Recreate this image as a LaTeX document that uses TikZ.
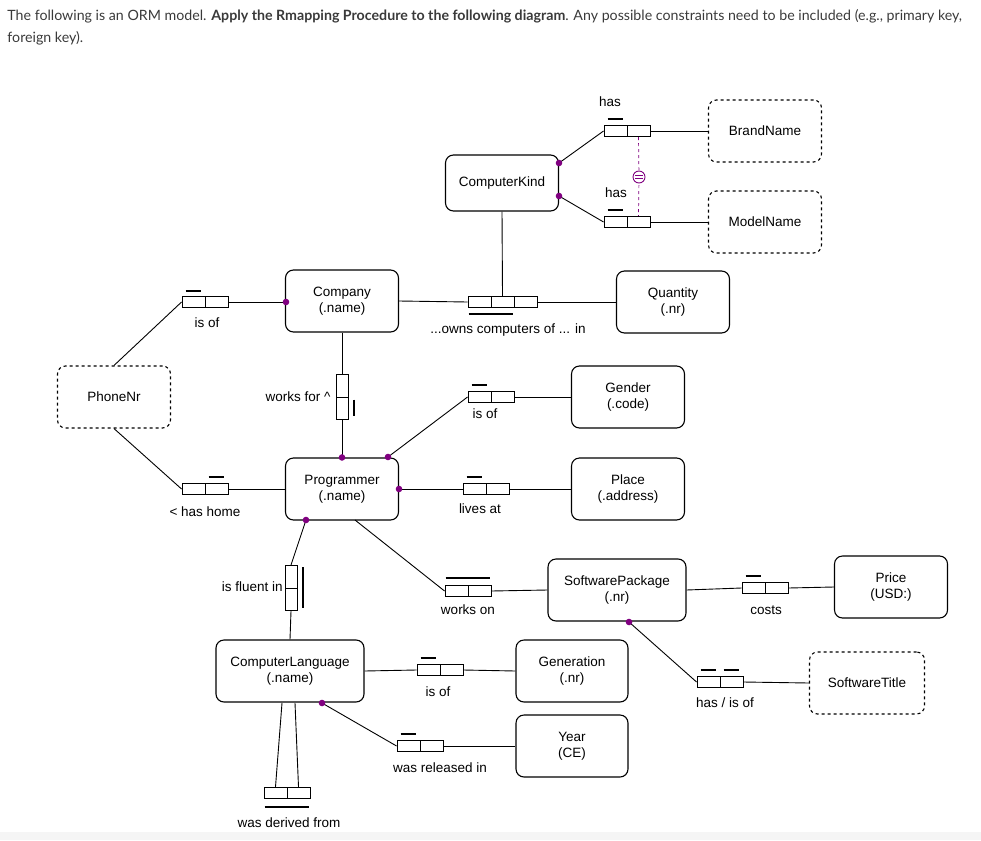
\documentclass[tikz,border=0pt]{standalone}
\usepackage{fontspec}
\setmainfont{Liberation Sans}
\newfontfamily\latofont{Lato}
\definecolor{orm}{HTML}{800080}
\definecolor{hdr}{HTML}{3A3A3A}
\newcommand\hrole[3]{%
  \node[cell] (#1a) at (#2-11.5,#3) {};
  \node[cell] (#1b) at (#2+11.5,#3) {};}
\newcommand\vrole[3]{%
  \node[vcell] (#1a) at (#2,#3-11.25) {};
  \node[vcell] (#1b) at (#2,#3+11.25) {};}
\newcommand\tdot[1]{\fill[orm] (#1) circle (3.3);}
\begin{document}
\begin{tikzpicture}[x=1pt,y=-1pt,line width=0.9pt,
  every node/.style={font=\fontsize{13.5}{15.5}\selectfont},
  ent/.style={draw,line width=1.1pt,rounded corners=8pt,minimum width=113pt,minimum height=62pt,align=center,inner sep=0pt},
  val/.style={ent,dashed},
  cell/.style={draw,line width=0.9pt,minimum width=23pt,minimum height=11.5pt,inner sep=0pt},
  vcell/.style={draw,line width=0.9pt,minimum width=12pt,minimum height=22.5pt,inner sep=0pt},
  lbl/.style={inner sep=0pt},
  bar/.style={line width=2pt}]
\useasboundingbox (0,0) rectangle (981,840);
\fill[gray!8] (0,832) rectangle (981,840);
% header
\node[anchor=west,inner sep=0pt,text=hdr,font=\latofont\fontsize{14.2}{17}\selectfont] (hd1) at (7,16) {The following is an ORM model. \textbf{Apply the Rmapping Procedure to the following diagram}. Any possible constraints need to be included (e.g., primary key,};
\node[anchor=west,inner sep=0pt,text=hdr,font=\latofont\fontsize{14.2}{17}\selectfont] (hd2) at (7,38) {foreign key).};
% entities
\node[ent] (ck) at (502,183) [minimum width=113pt,minimum height=56pt] {ComputerKind};
\node[val] (brand) at (765,131) {BrandName};
\node[val] (model) at (765,222) {ModelName};
\node[ent] (comp) at (342,301) {Company\\(.name)};
\node[ent] (qty) at (673,302) {Quantity\\(.nr)};
\node[val] (phone) at (114,397) {PhoneNr};
\node[ent] (prog) at (342,489) {Programmer\\(.name)};
\node[ent] (gender) at (628,397) {Gender\\(.code)};
\node[ent] (place) at (628,489) {Place\\(.address)};
\node[ent,minimum width=138pt] (sp) at (617,590) {SoftwarePackage\\(.nr)};
\node[ent] (price) at (891,587) {Price\\(USD:)};
\node[val,minimum width=115pt] (stitle) at (867,683) {SoftwareTitle};
\node[ent,minimum width=148pt] (cl) at (290,671) {ComputerLanguage\\(.name)};
\node[ent,minimum width=112pt] (gen) at (572,671) {Generation\\(.nr)};
\node[ent,minimum width=112pt] (year) at (572,746) {Year\\(CE)};
% roles
\hrole{hb}{627}{131}
\hrole{hm}{627}{222}
\node[cell] (ow1) at (479.5,302) {};
\node[cell] (ow2) at (502.5,302) {};
\node[cell] (ow3) at (525.5,302) {};
\hrole{ci}{205}{302}
\hrole{hh}{205}{489}
\vrole{wf}{342}{397}
\hrole{go}{491}{397}
\hrole{la}{486}{489}
\hrole{wo}{468}{591}
\hrole{co}{765}{588}
\hrole{hi}{720}{682}
\vrole{fl}{291}{588}
\hrole{gi}{440}{670}
\hrole{wr}{420}{746}
\hrole{wd}{287}{793}
% uniqueness bars
\draw[bar] (hba.north west)++(4,-6) -- ++(15,0);
\draw[bar] (hma.north west)++(4,-6) -- ++(15,0);
\draw[bar] (ow1.south west)++(1,6) -- ++(44,0);
\draw[bar] (cia.north west)++(4,-5) -- ++(15,0);
\draw[bar] (hhb.north west)++(4,-6) -- ++(15,0);
\draw[bar] (wfb.north east)++(6,3) -- ++(0,16);
\draw[bar] (goa.north west)++(4,-6) -- ++(15,0);
\draw[bar] (laa.north west)++(4,-6) -- ++(15,0);
\draw[bar] (woa.north west)++(1,-7) -- ++(44,0);
\draw[bar] (coa.north west)++(4,-6) -- ++(15,0);
\draw[bar] (hia.north west)++(4,-6) -- ++(15,0);
\draw[bar] (hib.north west)++(4,-6) -- ++(15,0);
\draw[bar] (fla.north east)++(6,2) -- ++(0,41);
\draw[bar] (gia.north west)++(4,-6) -- ++(15,0);
\draw[bar] (wra.north west)++(4,-6) -- ++(15,0);
\draw[bar] (wda.south west)++(1,8) -- ++(44,0);
% equality constraint
\coordinate (eqc) at (639,177);
\draw[orm,dashed,line width=0.7pt] (hbb.south) -- (eqc) -- (hmb.north);
\draw[orm,fill=white] (eqc) circle (6);
\draw[orm] (635,175.5) -- (643,175.5) (635,178.5) -- (643,178.5);
% role labels
\node[lbl] (l1) at (610,102) {has};
\node[lbl] (l2) at (616,193) {has};
\node[lbl] (l3) at (508,330) {...owns computers of ... in};
\node[lbl] (l4) at (207,323) {is of};
\node[lbl] (l5) at (205,512) {< has home};
\node[lbl,anchor=east] (l6) at (331,397) {works for \^{}};
\node[lbl] (l7) at (485,414) {is of};
\node[lbl] (l8) at (480,509) {lives at};
\node[lbl] (l9) at (468,610) {works on};
\node[lbl] (l10) at (766,610) {costs};
\node[lbl] (l11) at (725,703) {has / is of};
\node[lbl,anchor=east] (l12) at (283,587) {is fluent in};
\node[lbl] (l13) at (438,692) {is of};
\node[lbl] (l14) at (440,768) {was released in};
\node[lbl] (l15) at (289,823) {was derived from};
% connectors
\coordinate (ck1) at (559,163); \coordinate (ck2) at (559,196);
\draw (ck1) -- (hba.west); \draw (ck2) -- (hma.west);
\draw (hbb.east) -- (brand.west); \draw (hmb.east) -- (model.west);
\draw (ck.south) -- (ow2.north);
\draw (comp.east) -- (ow1.west);
\draw (ow3.east) -- (qty.west);
\coordinate (cd) at (286,302);
\draw (cib.east) -- (cd);
\draw (cia.west) -- (phone.north);
\draw (phone.south) -- (hha.west);
\draw (hhb.east) -- (prog.west);
\draw (comp.south) -- (wfa.north);
\draw (wfb.south) -- (prog.north);
\coordinate (pd1) at (388,457); \coordinate (pd2) at (399,489); \coordinate (pd3) at (306,520);
\draw (pd1) -- (goa.west); \draw (gob.east) -- (gender.west);
\draw (pd2) -- (laa.west); \draw (lab.east) -- (place.west);
\coordinate (pb) at (355,520);
\draw (pb) -- (woa.west); \draw (wob.east) -- (sp.west);
\draw (sp.east) -- (coa.west); \draw (cob.east) -- (price.west);
\coordinate (spd) at (629,622);
\draw (spd) -- (hia.west); \draw (hib.east) -- (stitle.west);
\draw (pd3) -- (fla.north); \draw (flb.south) -- (cl.north);
\draw (cl.east) -- (gia.west); \draw (gib.east) -- (gen.west);
\coordinate (cld) at (322,703);
\draw (cld) -- (wra.west); \draw (wrb.east) -- (year.west);
\coordinate (cb1) at (282,703); \coordinate (cb2) at (295,703);
\draw (cb1) -- (wda.north); \draw (cb2) -- (wdb.north);
% role dots
\tdot{ck1}\tdot{ck2}\tdot{cd}\tdot{pd1}\tdot{pd2}\tdot{pd3}\tdot{spd}\tdot{cld}
\fill[orm] (prog.north) circle (3.3);
\end{tikzpicture}
\end{document}
